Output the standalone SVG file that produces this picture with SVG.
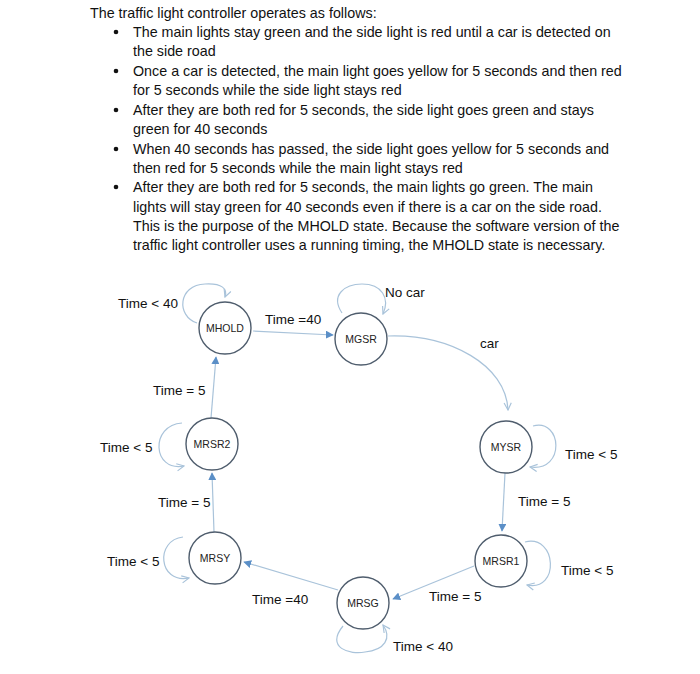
<svg xmlns="http://www.w3.org/2000/svg" width="700" height="674" viewBox="0 0 700 674">
<style>
.t{font-family:"Liberation Sans",Arial,sans-serif;font-size:14.3px;fill:#111}
.l{font-family:"Liberation Sans",Arial,sans-serif;font-size:13.5px;fill:#111}
.n{font-family:"Liberation Sans",Arial,sans-serif;font-size:10.5px;fill:#222;text-anchor:middle}
.c{fill:#fff;stroke:#4f5d6d;stroke-width:1.4}
.e{fill:none;stroke:#a9c3da;stroke-width:1.2}
.s{marker-end:url(#fa)}
.o{marker-end:url(#oa)}
</style>
<defs>
<marker id="fa" viewBox="0 0 10 10" refX="9" refY="5" markerWidth="8" markerHeight="8" markerUnits="userSpaceOnUse" orient="auto">
<path d="M0,0 L10,5 L0,10 z" fill="#5b8fc7"/>
</marker>
<marker id="oa" viewBox="0 0 10 10" refX="9" refY="5" markerWidth="9" markerHeight="9" markerUnits="userSpaceOnUse" orient="auto">
<path d="M1,1 L9,5 L1,9" fill="none" stroke="#a9c3da" stroke-width="1.3"/>
</marker>
</defs>
<rect width="700" height="674" fill="#fff"/>
<g id="description">
<text class="t" x="90" y="18">The traffic light controller operates as follows:</text>
<circle cx="116" cy="32" r="2.3" fill="#111"/>
<circle cx="116" cy="71" r="2.3" fill="#111"/>
<circle cx="116" cy="110" r="2.3" fill="#111"/>
<circle cx="116" cy="149" r="2.3" fill="#111"/>
<circle cx="116" cy="187" r="2.3" fill="#111"/>
<text class="t" x="133" y="37">The main lights stay green and the side light is red until a car is detected on</text>
<text class="t" x="133" y="56">the side road</text>
<text class="t" x="133" y="76">Once a car is detected, the main light goes yellow for 5 seconds and then red</text>
<text class="t" x="133" y="95">for 5 seconds while the side light stays red</text>
<text class="t" x="133" y="115">After they are both red for 5 seconds, the side light goes green and stays</text>
<text class="t" x="133" y="134">green for 40 seconds</text>
<text class="t" x="133" y="154">When 40 seconds has passed, the side light goes yellow for 5 seconds and</text>
<text class="t" x="133" y="173">then red for 5 seconds while the main light stays red</text>
<text class="t" x="133" y="192">After they are both red for 5 seconds, the main lights go green. The main</text>
<text class="t" x="133" y="212">lights will stay green for 40 seconds even if there is a car on the side road.</text>
<text class="t" x="133" y="231">This is the purpose of the MHOLD state. Because the software version of the</text>
<text class="t" x="133" y="250">traffic light controller uses a running timing, the MHOLD state is necessary.</text>
</g>
<g id="connectors">
<path class="e s" d="M253,331 L333,335"/>
<path class="e o" d="M388,336 C450,334 506,365 508,410"/>
<path class="e s" d="M505,473 L502,531"/>
<path class="e s" d="M474,566 L393,599"/>
<path class="e s" d="M338,590 L244,562"/>
<path class="e s" d="M214,532 L212,473"/>
<path class="e s" d="M211,418 L216,357"/>
<path class="e o" d="M197,323 C176,316 178,285 205,284 C222,283 228,289 225,297"/>
<path class="e o" d="M342,313 C330,295 345,284 362,284 C382,284 390,298 383,314"/>
<path class="e o" d="M533,426 C562,418 566,472 530,467"/>
<path class="e o" d="M525,542 C557,534 560,592 527,585"/>
<path class="e o" d="M182,423 C150,425 152,472 184,466"/>
<path class="e o" d="M183,537 C155,540 158,584 189,578"/>
<path class="e o" d="M343,626 C325,648 350,655 365,652 C385,650 392,638 383,625"/>
<text class="l" x="118" y="308">Time &lt; 40</text>
<text class="l" x="265" y="324">Time =40</text>
<text class="l" x="385" y="297">No car</text>
<text class="l" x="480" y="348">car</text>
<text class="l" x="153" y="395">Time = 5</text>
<text class="l" x="100" y="452">Time &lt; 5</text>
<text class="l" x="158" y="507">Time = 5</text>
<text class="l" x="565" y="459">Time &lt; 5</text>
<text class="l" x="518" y="506">Time = 5</text>
<text class="l" x="107" y="566">Time &lt; 5</text>
<text class="l" x="561" y="575">Time &lt; 5</text>
<text class="l" x="252" y="604">Time =40</text>
<text class="l" x="429" y="601">Time = 5</text>
<text class="l" x="393" y="651">Time &lt; 40</text>
</g>
<g id="MHOLD"><circle class="c" cx="225" cy="328" r="26"/><text class="n" x="225" y="332">MHOLD</text></g>
<g id="MGSR"><circle class="c" cx="361" cy="339" r="26"/><text class="n" x="361" y="343">MGSR</text></g>
<g id="MYSR"><circle class="c" cx="506" cy="447" r="26"/><text class="n" x="506" y="451">MYSR</text></g>
<g id="MRSR1"><circle class="c" cx="501" cy="561" r="26"/><text class="n" x="501" y="565">MRSR1</text></g>
<g id="MRSG"><circle class="c" cx="363" cy="603" r="26"/><text class="n" x="363" y="607">MRSG</text></g>
<g id="MRSY"><circle class="c" cx="215" cy="558" r="26"/><text class="n" x="215" y="562">MRSY</text></g>
<g id="MRSR2"><circle class="c" cx="212" cy="444" r="26"/><text class="n" x="212" y="448">MRSR2</text></g>
</svg>
